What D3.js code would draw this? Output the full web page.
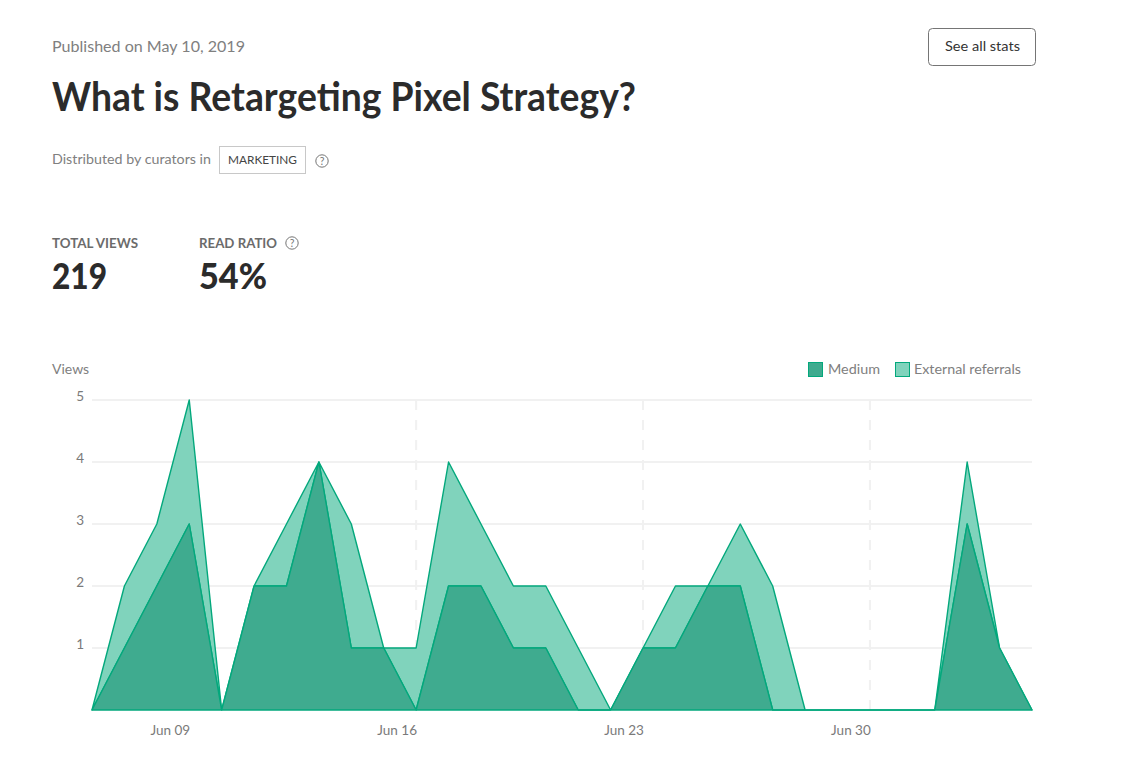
<!DOCTYPE html>
<html>
<head>
<meta charset="utf-8">
<script src="https://cdn.jsdelivr.net/npm/d3@7"></script>
<style>
  html, body { margin: 0; padding: 0; background: #fff; }
  svg { display: block; }
  text { font-family: Lato, "Noto Sans", sans-serif; }
  .axis path, .axis line { display: none; }
  .axis text { fill: #7a7a7a; font-size: 13.5px; }
</style>
</head>
<body>
<svg id="chart" width="1137" height="766"></svg>
<script>
const days = ['Jun 06','Jun 07','Jun 08','Jun 09','Jun 10','Jun 11','Jun 12','Jun 13','Jun 14','Jun 15',
  'Jun 16','Jun 17','Jun 18','Jun 19','Jun 20','Jun 21','Jun 22','Jun 23','Jun 24','Jun 25',
  'Jun 26','Jun 27','Jun 28','Jun 29','Jun 30','Jul 01','Jul 02','Jul 03','Jul 04','Jul 05'];
const medium =   [0,1,2,3,0,2,2,4,1,1,0,2,2,1,1,0,0,1,1,2,2,0,0,0,0,0,0,3,1,0];
const external = [0,1,1,2,0,0,1,0,2,0,1,2,1,1,1,1,0,0,1,0,1,2,0,0,0,0,0,1,0,0];
const xTickLabels = ['Jun 09','Jun 16','Jun 23','Jun 30'];
const yTickValues = [1,2,3,4,5];
const seriesNames = ['Medium','External referrals'];
const seriesFills = ['#3fab8f','#80d3bc'];

const svg = d3.select('#chart');

const addText = (x, y, str, size, fill, weight) => svg.append('text')
  .attr('x', x).attr('y', y)
  .attr('font-size', size)
  .attr('font-weight', weight || 400)
  .attr('fill', fill)
  .text(str);

// the reference face is narrower than Lato, squeeze to the measured width
const fitWidth = (sel, w) => sel.attr('textLength', w).attr('lengthAdjust', 'spacingAndGlyphs');

const addHelpIcon = (cx, cy) => {
  svg.append('circle').attr('cx', cx).attr('cy', cy).attr('r', 6.2)
    .attr('fill', 'none').attr('stroke', '#757575').attr('stroke-width', 1);
  svg.append('text').attr('x', cx).attr('y', cy + 3.8)
    .attr('text-anchor', 'middle').attr('font-size', 10.5).attr('fill', '#757575').text('?');
};

// header
fitWidth(addText(52, 52, 'Published on May 10, 2019', 16, '#808080'), 193);
fitWidth(addText(52, 110.5, 'What is Retargeting Pixel Strategy?', 40, '#2b2b2b', 700), 584);
fitWidth(addText(52, 164, 'Distributed by curators in', 14, '#808080'), 159);

svg.append('rect').attr('x', 219.5).attr('y', 146.5).attr('width', 86).attr('height', 27)
  .attr('fill', '#fff').attr('stroke', '#c8c8c8');
fitWidth(addText(228, 164, 'MARKETING', 12, '#444'), 69);
addHelpIcon(322, 161);

svg.append('rect').attr('x', 928.5).attr('y', 28.5).attr('width', 107).attr('height', 37).attr('rx', 4)
  .attr('fill', '#fff').attr('stroke', '#757575');
fitWidth(addText(945, 51, 'See all stats', 14, '#333'), 75);

// stats
fitWidth(addText(52, 248, 'TOTAL VIEWS', 13.5, '#6b6b6b', 700), 86);
fitWidth(addText(199, 248, 'READ RATIO', 13.5, '#6b6b6b', 700), 78);
addHelpIcon(292, 243);
fitWidth(addText(52, 288.5, '219', 36, '#2b2b2b', 900), 55);
fitWidth(addText(199, 288.5, '54%', 36, '#2b2b2b', 900), 68);

// chart
const x = d3.scalePoint().domain(days).range([92, 1032]);
const y = d3.scaleLinear().domain([0, 5]).range([710, 400]);

addText(52, 374, 'Views', 14, '#808080');

svg.append('g').selectAll('line').data(yTickValues).join('line')
  .attr('x1', 92).attr('x2', 1032)
  .attr('y1', d => y(d)).attr('y2', d => y(d))
  .attr('stroke', '#f1f1f1').attr('stroke-width', 2);

svg.append('g').selectAll('line').data(xTickLabels).join('line')
  .attr('x1', d => x(d)).attr('x2', d => x(d))
  .attr('y1', 400).attr('y2', 710)
  .attr('stroke', '#f1f1f1').attr('stroke-width', 2)
  .attr('stroke-dasharray', '10 10');

const rows = days.map((d, i) => ({day: d, [seriesNames[0]]: medium[i], [seriesNames[1]]: external[i]}));
const stacked = d3.stack().keys(seriesNames)(rows);

const area = d3.area()
  .x(d => x(d.data.day))
  .y0(d => y(d[0]))
  .y1(d => y(d[1]));

// external goes first so the medium outline stays on top
svg.append('g').selectAll('path').data(stacked.slice().reverse()).join('path')
  .attr('d', area)
  .attr('fill', d => seriesFills[seriesNames.indexOf(d.key)])
  .attr('stroke', '#03a87c')
  .attr('stroke-width', 1.4)
  .attr('stroke-linejoin', 'round');

svg.append('g').attr('class', 'axis')
  .attr('transform', 'translate(92,0)')
  .call(d3.axisLeft(y).tickValues(yTickValues).tickSize(0).tickPadding(8).tickFormat(d3.format('d')))
  .selectAll('text')
  .attr('dy', '-0.0em');

svg.append('g').attr('class', 'axis')
  .attr('transform', 'translate(0,710)')
  .call(d3.axisBottom(x).tickValues(xTickLabels).tickSize(0).tickPadding(0))
  .selectAll('text')
  .attr('dx', -19.5)
  .attr('y', 15);

// legend
const legendX = [808, 895];
const legendWidths = [52, 107];
seriesNames.forEach((name, i) => {
  svg.append('rect').attr('x', legendX[i] + 0.5).attr('y', 362.5).attr('width', 14).attr('height', 14)
    .attr('fill', seriesFills[i]).attr('stroke', '#03a87c');
  fitWidth(addText(legendX[i] + 20 - i, 374, name, 14, '#808080'), legendWidths[i]);
});
</script>
</body>
</html>
